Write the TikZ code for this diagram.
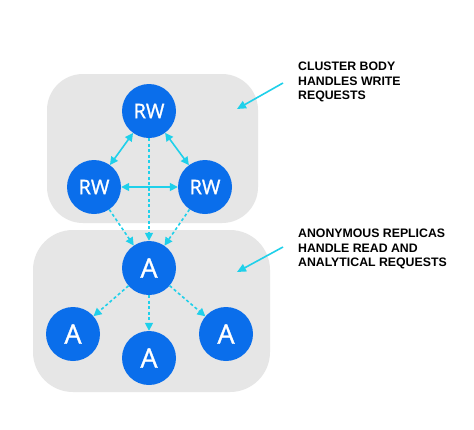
\documentclass[tikz,border=0pt]{standalone}
\usepackage{fontspec}
\setmainfont{Liberation Sans}
\newfontfamily\nodefont[FakeBold=1.2]{Open Sans}
\usetikzlibrary{arrows.meta}

\definecolor{replicablue}{HTML}{0A6EEB}
\definecolor{linkcyan}{HTML}{1FD0EA}
\definecolor{groupgray}{HTML}{E6E6E6}

\tikzset{
  replica/.style={circle, fill=replicablue, text=white, minimum size=54pt, inner sep=0pt},
  rwtext/.style={font=\nodefont\fontsize{20}{21}\selectfont},
  atext/.style={font=\nodefont\fontsize{27}{28}\selectfont},
  link/.style={draw=linkcyan, line width=1.6pt, {Triangle[length=8pt,width=8pt]}-{Triangle[length=8pt,width=8pt]}},
  feed/.style={draw=linkcyan, line width=1.6pt, dashed, dash pattern=on 3pt off 2.5pt, -{Triangle[length=8pt,width=8pt]}},
  note/.style={font=\bfseries\fontsize{12.3}{14.5}\selectfont, align=left, anchor=north west, inner sep=0pt}
}

\begin{document}
\begin{tikzpicture}[x=1pt,y=-1pt]
  \useasboundingbox[fill=white] (0,0) rectangle (474,429);

  % groups
  \fill[groupgray, rounded corners=36pt] (47,74) rectangle (258,223);
  \fill[groupgray, rounded corners=40pt] (33,230) rectangle (270,392);

  % cluster body
  \node[replica, rwtext] (rwT) at (149,111) {RW};
  \node[replica, rwtext] (rwL) at (94,187) {RW};
  \node[replica, rwtext] (rwR) at (205,187) {RW};

  % anonymous replicas
  \node[replica, atext] (aT) at (149,268) {A};
  \node[replica, atext] (aL) at (73,334) {A};
  \node[replica, atext] (aM) at (149,358) {A};
  \node[replica, atext] (aR) at (226,334) {A};

  \draw[link] (rwT) -- (rwL);
  \draw[link] (rwT) -- (rwR);
  \draw[link] (rwL) -- (rwR);

  \draw[feed] (rwT) -- (aT);
  \draw[feed] (rwL) -- (aT);
  \draw[feed] (rwR) -- (aT);

  \draw[feed] (aT) -- (aL);
  \draw[feed] (aT) -- (aM);
  \draw[feed] (aT) -- (aR);

  % notes
  \node[note] (bodynote) at (298,62) {CLUSTER BODY\\HANDLES WRITE\\REQUESTS};
  \node[note] (replicanote) at (298,229) {ANONYMOUS REPLICAS\\HANDLE READ AND\\ANALYTICAL REQUESTS};

  \coordinate (bodytail) at (283,83);
  \coordinate (bodyhead) at (237,109);
  \coordinate (replicatail) at (283,247);
  \coordinate (replicahead) at (237,272);
  \draw[draw=linkcyan, line width=1.6pt, -{Triangle[length=9pt,width=8pt]}] (bodytail) -- (bodyhead);
  \draw[draw=linkcyan, line width=1.6pt, -{Triangle[length=9pt,width=8pt]}] (replicatail) -- (replicahead);
\end{tikzpicture}
\end{document}
